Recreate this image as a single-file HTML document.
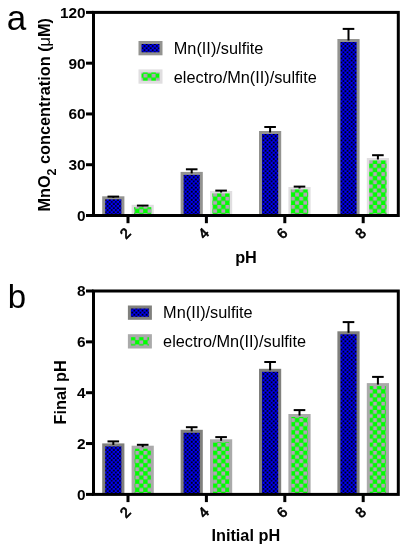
<!DOCTYPE html>
<html><head><meta charset="utf-8"><style>
html,body{margin:0;padding:0;background:#fff;}
svg{display:block;}
text{font-family:"Liberation Sans", Arial, sans-serif;}
</style></head><body>
<svg width="405" height="550" viewBox="0 0 405 550">
<defs>
<pattern id="pb" x="0" y="0" width="4.1" height="4.1" patternUnits="userSpaceOnUse">
<rect width="4.1" height="4.1" fill="#0000ff"/><rect x="0.15" y="0.15" width="1.8" height="1.8" fill="#000"/><rect x="2.2" y="2.2" width="1.8" height="1.8" fill="#000"/>
</pattern>
<pattern id="pg" x="0" y="0" width="8.2" height="8.2" patternUnits="userSpaceOnUse">
<rect width="8.2" height="8.2" fill="#00ff00"/><rect x="4.1" y="0" width="3.8" height="3.8" fill="#b6a0ba"/><rect x="0" y="4.1" width="3.8" height="3.8" fill="#b6a0ba"/>
</pattern>
</defs>
<rect width="405" height="550" fill="#fff"/>

<rect x="102.20" y="196.30" width="22.20" height="19.20" fill="#939390"/>
<rect x="105.20" y="199.30" width="16.20" height="16.20" fill="url(#pb)"/>
<rect x="112.30" y="196.60" width="2" height="1.20" fill="#000"/>
<rect x="107.50" y="195.60" width="11.6" height="2" fill="#000"/>
<rect x="131.60" y="204.80" width="22.20" height="10.70" fill="#e0dee0"/>
<rect x="134.00" y="207.20" width="17.40" height="8.30" fill="url(#pg)"/>
<rect x="141.70" y="205.60" width="2" height="0.70" fill="#000"/>
<rect x="136.90" y="204.60" width="11.6" height="2" fill="#000"/>
<rect x="180.60" y="171.90" width="22.20" height="43.60" fill="#939390"/>
<rect x="183.60" y="174.90" width="16.20" height="40.60" fill="url(#pb)"/>
<rect x="190.70" y="169.30" width="2" height="4.10" fill="#000"/>
<rect x="185.90" y="168.30" width="11.6" height="2" fill="#000"/>
<rect x="210.00" y="191.00" width="22.20" height="24.50" fill="#e0dee0"/>
<rect x="212.40" y="193.40" width="17.40" height="22.10" fill="url(#pg)"/>
<rect x="220.10" y="190.60" width="2" height="1.90" fill="#000"/>
<rect x="215.30" y="189.60" width="11.6" height="2" fill="#000"/>
<rect x="259.00" y="131.00" width="22.20" height="84.50" fill="#939390"/>
<rect x="262.00" y="134.00" width="16.20" height="81.50" fill="url(#pb)"/>
<rect x="269.10" y="127.00" width="2" height="5.50" fill="#000"/>
<rect x="264.30" y="126.00" width="11.6" height="2" fill="#000"/>
<rect x="288.40" y="187.00" width="22.20" height="28.50" fill="#e0dee0"/>
<rect x="290.80" y="189.40" width="17.40" height="26.10" fill="url(#pg)"/>
<rect x="298.50" y="186.60" width="2" height="1.90" fill="#000"/>
<rect x="293.70" y="185.60" width="11.6" height="2" fill="#000"/>
<rect x="337.40" y="39.00" width="22.20" height="176.50" fill="#939390"/>
<rect x="340.40" y="42.00" width="16.20" height="173.50" fill="url(#pb)"/>
<rect x="347.50" y="28.90" width="2" height="11.60" fill="#000"/>
<rect x="342.70" y="27.90" width="11.6" height="2" fill="#000"/>
<rect x="366.80" y="158.00" width="22.20" height="57.50" fill="#e0dee0"/>
<rect x="369.20" y="160.40" width="17.40" height="55.10" fill="url(#pg)"/>
<rect x="376.90" y="155.20" width="2" height="4.30" fill="#000"/>
<rect x="372.10" y="154.20" width="11.6" height="2" fill="#000"/>
<rect x="93.50" y="12.40" width="304.80" height="203.10" fill="none" stroke="#000" stroke-width="3"/>
<rect x="86" y="214.00" width="7.50" height="3" fill="#000"/>
<text x="85.6" y="220.90" font-size="15.4" font-weight="bold" text-anchor="end">0</text>
<rect x="86" y="163.22" width="7.50" height="3" fill="#000"/>
<text x="85.6" y="170.12" font-size="15.4" font-weight="bold" text-anchor="end">30</text>
<rect x="86" y="112.45" width="7.50" height="3" fill="#000"/>
<text x="85.6" y="119.35" font-size="15.4" font-weight="bold" text-anchor="end">60</text>
<rect x="86" y="61.68" width="7.50" height="3" fill="#000"/>
<text x="85.6" y="68.58" font-size="15.4" font-weight="bold" text-anchor="end">90</text>
<rect x="86" y="10.90" width="7.50" height="3" fill="#000"/>
<text x="85.6" y="17.80" font-size="15.4" font-weight="bold" text-anchor="end">120</text>
<rect x="126.50" y="215.50" width="3" height="7.70" fill="#000"/>
<text x="0" y="0" font-size="14.5" text-anchor="middle" stroke="#000" stroke-width="0.7" transform="translate(125.40,233.50) rotate(-45) translate(0,4.8)">2</text>
<rect x="204.90" y="215.50" width="3" height="7.70" fill="#000"/>
<text x="0" y="0" font-size="14.5" text-anchor="middle" stroke="#000" stroke-width="0.7" transform="translate(203.80,233.50) rotate(-45) translate(0,4.8)">4</text>
<rect x="283.30" y="215.50" width="3" height="7.70" fill="#000"/>
<text x="0" y="0" font-size="14.5" text-anchor="middle" stroke="#000" stroke-width="0.7" transform="translate(282.20,233.50) rotate(-45) translate(0,4.8)">6</text>
<rect x="361.70" y="215.50" width="3" height="7.70" fill="#000"/>
<text x="0" y="0" font-size="14.5" text-anchor="middle" stroke="#000" stroke-width="0.7" transform="translate(360.60,233.50) rotate(-45) translate(0,4.8)">8</text>
<rect x="102.20" y="443.40" width="22.20" height="51.00" fill="#80807d"/>
<rect x="105.20" y="446.40" width="16.20" height="48.00" fill="url(#pb)"/>
<rect x="112.30" y="441.40" width="2" height="3.50" fill="#000"/>
<rect x="107.50" y="440.40" width="11.6" height="2" fill="#000"/>
<rect x="131.60" y="445.70" width="22.20" height="48.70" fill="#aaaaaa"/>
<rect x="134.60" y="448.70" width="16.20" height="45.70" fill="url(#pg)"/>
<rect x="141.70" y="444.80" width="2" height="2.40" fill="#000"/>
<rect x="136.90" y="443.80" width="11.6" height="2" fill="#000"/>
<rect x="180.60" y="429.80" width="22.20" height="64.60" fill="#80807d"/>
<rect x="183.60" y="432.80" width="16.20" height="61.60" fill="url(#pb)"/>
<rect x="190.70" y="427.20" width="2" height="4.10" fill="#000"/>
<rect x="185.90" y="426.20" width="11.6" height="2" fill="#000"/>
<rect x="210.00" y="439.30" width="22.20" height="55.10" fill="#aaaaaa"/>
<rect x="213.00" y="442.30" width="16.20" height="52.10" fill="url(#pg)"/>
<rect x="220.10" y="437.10" width="2" height="3.70" fill="#000"/>
<rect x="215.30" y="436.10" width="11.6" height="2" fill="#000"/>
<rect x="259.00" y="368.80" width="22.20" height="125.60" fill="#80807d"/>
<rect x="262.00" y="371.80" width="16.20" height="122.60" fill="url(#pb)"/>
<rect x="269.10" y="362.00" width="2" height="8.30" fill="#000"/>
<rect x="264.30" y="361.00" width="11.6" height="2" fill="#000"/>
<rect x="288.40" y="414.00" width="22.20" height="80.40" fill="#aaaaaa"/>
<rect x="291.40" y="417.00" width="16.20" height="77.40" fill="url(#pg)"/>
<rect x="298.50" y="410.10" width="2" height="5.40" fill="#000"/>
<rect x="293.70" y="409.10" width="11.6" height="2" fill="#000"/>
<rect x="337.40" y="331.30" width="22.20" height="163.10" fill="#80807d"/>
<rect x="340.40" y="334.30" width="16.20" height="160.10" fill="url(#pb)"/>
<rect x="347.50" y="322.10" width="2" height="10.70" fill="#000"/>
<rect x="342.70" y="321.10" width="11.6" height="2" fill="#000"/>
<rect x="366.80" y="383.10" width="22.20" height="111.30" fill="#aaaaaa"/>
<rect x="369.80" y="386.10" width="16.20" height="108.30" fill="url(#pg)"/>
<rect x="376.90" y="376.90" width="2" height="7.70" fill="#000"/>
<rect x="372.10" y="375.90" width="11.6" height="2" fill="#000"/>
<rect x="93.50" y="291.00" width="304.80" height="203.40" fill="none" stroke="#000" stroke-width="3"/>
<rect x="86" y="492.90" width="7.50" height="3" fill="#000"/>
<text x="85.6" y="499.80" font-size="15.4" font-weight="bold" text-anchor="end">0</text>
<rect x="86" y="442.05" width="7.50" height="3" fill="#000"/>
<text x="85.6" y="448.95" font-size="15.4" font-weight="bold" text-anchor="end">2</text>
<rect x="86" y="391.20" width="7.50" height="3" fill="#000"/>
<text x="85.6" y="398.10" font-size="15.4" font-weight="bold" text-anchor="end">4</text>
<rect x="86" y="340.35" width="7.50" height="3" fill="#000"/>
<text x="85.6" y="347.25" font-size="15.4" font-weight="bold" text-anchor="end">6</text>
<rect x="86" y="289.50" width="7.50" height="3" fill="#000"/>
<text x="85.6" y="296.40" font-size="15.4" font-weight="bold" text-anchor="end">8</text>
<rect x="126.50" y="494.40" width="3" height="7.70" fill="#000"/>
<text x="0" y="0" font-size="14.5" text-anchor="middle" stroke="#000" stroke-width="0.7" transform="translate(125.40,512.40) rotate(-45) translate(0,4.8)">2</text>
<rect x="204.90" y="494.40" width="3" height="7.70" fill="#000"/>
<text x="0" y="0" font-size="14.5" text-anchor="middle" stroke="#000" stroke-width="0.7" transform="translate(203.80,512.40) rotate(-45) translate(0,4.8)">4</text>
<rect x="283.30" y="494.40" width="3" height="7.70" fill="#000"/>
<text x="0" y="0" font-size="14.5" text-anchor="middle" stroke="#000" stroke-width="0.7" transform="translate(282.20,512.40) rotate(-45) translate(0,4.8)">6</text>
<rect x="361.70" y="494.40" width="3" height="7.70" fill="#000"/>
<text x="0" y="0" font-size="14.5" text-anchor="middle" stroke="#000" stroke-width="0.7" transform="translate(360.60,512.40) rotate(-45) translate(0,4.8)">8</text>
<text x="6.8" y="30.2" font-size="35">a</text>
<text x="7.7" y="308.3" font-size="33">b</text>
<text transform="translate(50.1,211.6) rotate(-90)" font-size="16.3" font-weight="bold">MnO<tspan font-size="12.4" dy="5.4">2</tspan><tspan dy="-5.4"> concentration (</tspan><tspan font-weight="normal">μ</tspan>M)</text>
<text x="246" y="263" font-size="16.3" font-weight="bold" text-anchor="middle">pH</text>
<text transform="translate(66.2,424.4) rotate(-90)" font-size="16.3" font-weight="bold">Final pH</text>
<text x="245.8" y="541.3" font-size="16.3" font-weight="bold" text-anchor="middle">Initial pH</text>
<rect x="138.50" y="41.00" width="24" height="14.3" fill="#939390"/>
<rect x="141.50" y="44.00" width="18" height="8.3" fill="url(#pb)"/>
<rect x="138.50" y="69.40" width="24" height="14.3" fill="#e0dee0"/>
<rect x="141.50" y="72.40" width="18" height="8.3" fill="url(#pg)"/>
<text x="173.80" y="54.00" font-size="16.3">Mn(II)/sulfite</text>
<text x="173.80" y="82.90" font-size="16.3">electro/Mn(II)/sulfite</text>
<rect x="127.90" y="305.50" width="24" height="14.3" fill="#80807d"/>
<rect x="130.90" y="308.50" width="18" height="8.3" fill="url(#pb)"/>
<rect x="127.90" y="334.20" width="24" height="14.3" fill="#aaaaaa"/>
<rect x="130.90" y="337.20" width="18" height="8.3" fill="url(#pg)"/>
<text x="163.10" y="318.20" font-size="16.3">Mn(II)/sulfite</text>
<text x="163.10" y="346.80" font-size="16.3">electro/Mn(II)/sulfite</text>
</svg></body></html>
